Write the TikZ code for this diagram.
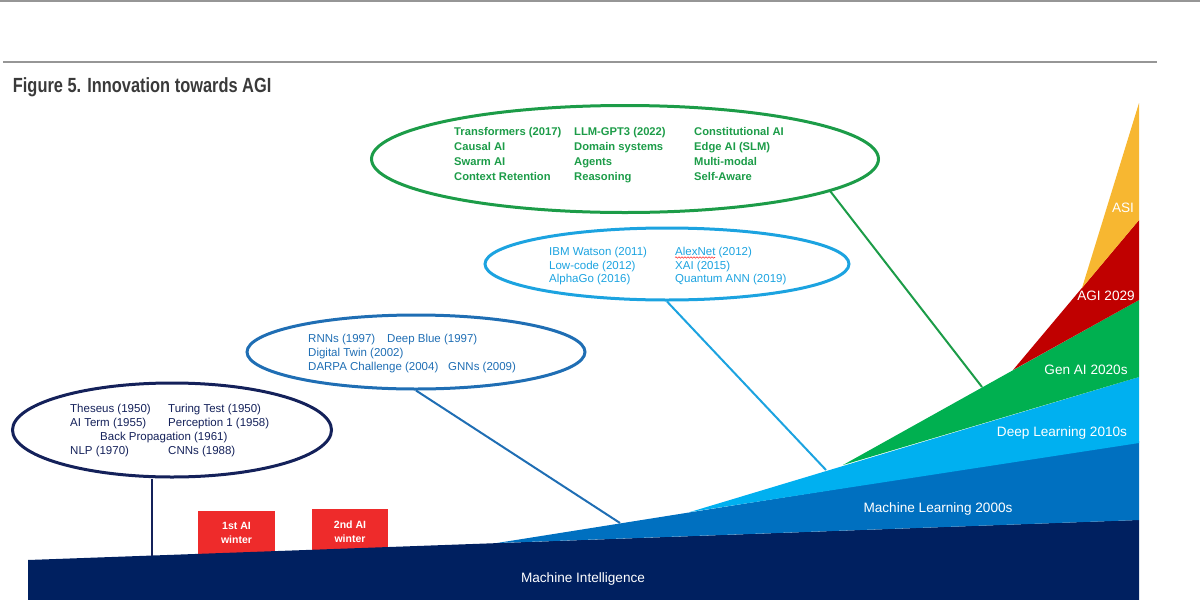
\documentclass[tikz,border=0pt]{standalone}
\usepackage{fontspec}
\setmainfont{Liberation Sans}
\newfontfamily\titlefont{Liberation Sans}[FakeStretch=0.8]
\usetikzlibrary{shapes.geometric,decorations.pathmorphing}
\definecolor{navy}{RGB}{0,32,96}
\definecolor{mlblue}{RGB}{0,112,192}
\definecolor{dlblue}{RGB}{0,176,240}
\definecolor{gengreen}{RGB}{0,176,80}
\definecolor{agired}{RGB}{192,0,0}
\definecolor{asiyellow}{RGB}{247,183,49}
\definecolor{winterred}{RGB}{238,43,43}
\definecolor{rulegray}{RGB}{150,150,150}
\definecolor{titlegray}{RGB}{58,58,58}
\definecolor{navyline}{RGB}{20,33,90}
\definecolor{blueline}{RGB}{31,110,180}
\definecolor{lblueline}{RGB}{28,163,224}
\definecolor{greenline}{RGB}{28,156,72}
\tikzset{
  rule/.style={draw=rulegray, line width=1.5pt},
  bubble/.style={ellipse, draw, line width=3pt, inner sep=0pt, fill=none},
  etxt/.style={anchor=west, inner sep=0pt, text height=0.72em, text depth=0pt, font=\fontsize{11.5}{14}\selectfont},
  gtxt/.style={anchor=west, inner sep=0pt, text height=0.72em, text depth=0pt, text=greenline, font=\bfseries\fontsize{11.2}{14}\selectfont},
  bandlbl/.style={inner sep=0pt, text height=0.72em, text depth=0pt, text=white, font=\fontsize{13.6}{16}\selectfont},
  wintertxt/.style={inner sep=0pt, text=white, align=center, font=\bfseries\fontsize{10.5}{14}\selectfont},
  conn/.style={line width=2pt}
}
\begin{document}
\begin{tikzpicture}[x=1pt,y=-1pt]
\useasboundingbox (0,0) rectangle (1200,600);
% rules and title
\draw[rule] (0,1) -- (1200,1);
\draw[rule] (3,62) -- (1157,62);
\node[anchor=base west, inner sep=0pt, text=titlegray, font=\titlefont\bfseries\fontsize{20.5}{24}\selectfont] (title) at (12.7,92.7) {Figure 5. Innovation towards AGI};

% AI winter boxes
\fill[winterred] (198,511) rectangle (275,562);
\fill[winterred] (312,509) rectangle (388,562);
\node[wintertxt] (w1) at (236.5,533) {1st AI\\winter};
\node[wintertxt] (w2) at (350,532) {2nd AI\\winter};

% bands
\fill[navy] (28,560) -- (1139,520) -- (1139,600) -- (28,600) -- cycle;
\fill[mlblue] (497,543) -- (1139,441) -- (1139,520) -- cycle;
\fill[dlblue] (690,512) -- (1139,377) -- (1139,443) -- cycle;
\fill[gengreen] (843,465) -- (1139,300) -- (1139,377) -- cycle;
\fill[agired] (1013,370) -- (1139,220) -- (1139,300) -- cycle;
\fill[asiyellow] (1082,288) -- (1139,103) -- (1139,220) -- cycle;

\node[bandlbl] (asi) at (1123,209) {ASI};
\node[bandlbl] (agi) at (1106,297) {AGI 2029};
\node[bandlbl] (gen) at (1086,371) {Gen AI 2020s};
\node[bandlbl] (dl) at (1062,433) {Deep Learning 2010s};
\node[bandlbl] (ml) at (938,509) {Machine Learning 2000s};
\node[bandlbl] (mi) at (583,579) {Machine Intelligence};

% connector end points
\coordinate (c1) at (152,556);
\coordinate (c2) at (620,523);
\coordinate (c3) at (826,470);
\coordinate (c4) at (982,387);

% ellipses
\node[bubble, draw=navyline, minimum width=319pt, minimum height=94pt] (e1) at (172,430) {};
\node[bubble, draw=blueline, minimum width=338pt, minimum height=74pt] (e2) at (416,352) {};
\node[bubble, draw=lblueline, minimum width=364pt, minimum height=72pt] (e3) at (667,264) {};
\node[bubble, draw=greenline, minimum width=507pt, minimum height=107pt] (e4) at (625,159) {};

% connectors
\draw[conn, draw=navyline] (e1.south -| c1) -- (c1);
\draw[conn, draw=blueline] (e2.south) -- (c2);
\draw[conn, draw=lblueline] (e3.south) -- (c3);
\draw[conn, draw=greenline] (e4.-9) -- (c4);

% navy texts
\begin{scope}[every node/.append style={text=navyline}]
\node[etxt] (t11) at (70,409) {Theseus (1950)};
\node[etxt] (t12) at (168,409) {Turing Test (1950)};
\node[etxt] (t21) at (70,423) {AI Term (1955)};
\node[etxt] (t22) at (168,423) {Perception 1 (1958)};
\node[etxt] (t31) at (100,437) {Back Propagation (1961)};
\node[etxt] (t41) at (70,451) {NLP (1970)};
\node[etxt] (t42) at (168,451) {CNNs (1988)};
\end{scope}

% blue texts
\begin{scope}[every node/.append style={text=blueline}]
\node[etxt] (r11) at (308,339) {RNNs (1997)};
\node[etxt] (r12) at (387,339) {Deep Blue (1997)};
\node[etxt] (r21) at (308,353) {Digital Twin (2002)};
\node[etxt] (r31) at (308,367) {DARPA Challenge (2004)};
\node[etxt] (r32) at (448,367) {GNNs (2009)};
\end{scope}

% light blue texts
\begin{scope}[every node/.append style={text=lblueline}]
\node[etxt] (s11) at (549,252) {IBM Watson (2011)};
\node[etxt] (s12) at (675,252) {AlexNet (2012)};
\node[etxt] (s21) at (549,266) {Low-code (2012)};
\node[etxt] (s22) at (675,266) {XAI (2015)};
\node[etxt] (s31) at (549,279) {AlphaGo (2016)};
\node[etxt] (s32) at (675,279) {Quantum ANN (2019)};
\end{scope}
\draw[red!80, line width=0.6pt, decorate, decoration={snake, amplitude=0.7pt, segment length=3pt}] (675,257.5) -- (715,257.5);

% green texts
\node[gtxt] (g11) at (454,132) {Transformers (2017)};
\node[gtxt] (g12) at (574,132) {LLM-GPT3 (2022)};
\node[gtxt] (g13) at (694,132) {Constitutional AI};
\node[gtxt] (g21) at (454,147) {Causal AI};
\node[gtxt] (g22) at (574,147) {Domain systems};
\node[gtxt] (g23) at (694,147) {Edge AI (SLM)};
\node[gtxt] (g31) at (454,162) {Swarm AI};
\node[gtxt] (g32) at (574,162) {Agents};
\node[gtxt] (g33) at (694,162) {Multi-modal};
\node[gtxt] (g41) at (454,177) {Context Retention};
\node[gtxt] (g42) at (574,177) {Reasoning};
\node[gtxt] (g43) at (694,177) {Self-Aware};
\end{tikzpicture}
\end{document}
